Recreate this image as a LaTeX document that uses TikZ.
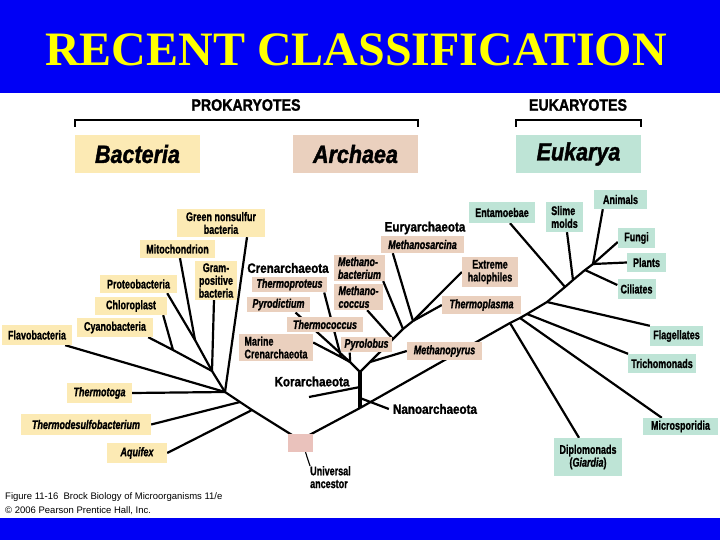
\documentclass[tikz,border=0pt]{standalone}
\usepackage{fontspec}
\setmainfont{Liberation Sans}
\newfontfamily\labfont{Liberation Sans}[FakeStretch=0.72, FakeBold=1.2]
\newfontfamily\headfont{Liberation Sans}[FakeStretch=0.86, FakeBold=1.5]
\newfontfamily\titlefont{Liberation Serif}
\usetikzlibrary{backgrounds, calc}
\definecolor{slideblue}{RGB}{0,0,245}
\definecolor{titleyellow}{RGB}{255,255,0}
\definecolor{bacfill}{RGB}{252,234,180}
\definecolor{arcfill}{RGB}{234,208,190}
\definecolor{eukfill}{RGB}{190,228,214}
\definecolor{rootfill}{RGB}{234,194,188}
\newcommand{\labsize}{\fontsize{12.5}{12.8}\selectfont}

\begin{document}
\begin{tikzpicture}[
  x=1pt, y=-1pt,
  lbl/.style        = {inner xsep=3pt, inner ysep=2pt, minimum height=18pt, align=center,
                       font=\labfont\bfseries\labsize},
  itl/.style        = {font=\labfont\bfseries\itshape\labsize},
  bacbox/.style     = {lbl, fill=bacfill},
  arcbox/.style     = {lbl, fill=arcfill},
  eukbox/.style     = {lbl, fill=eukfill},
  domainbox/.style  = {minimum width=125pt, minimum height=38pt, inner sep=0pt,
                       font=\headfont\bfseries\itshape\fontsize{25}{25}\selectfont},
  kingdomhdr/.style = {inner sep=0pt, font=\headfont\bfseries\fontsize{16.5}{16.5}\selectfont},
  phylumhdr/.style  = {inner sep=0pt, font=\headfont\bfseries\fontsize{13.5}{13.5}\selectfont},
  bracket/.style    = {line width=1.6pt},
  branch/.style     = {line width=2.2pt, line join=round},
  trunk/.style      = {line width=4.2pt},
]
\useasboundingbox (0,0) rectangle (720,540);

% ---------- slide frame ----------
\fill[slideblue] (0,0) rectangle (720,93);
\fill[slideblue] (0,518) rectangle (720,540);
\node[font=\titlefont\bfseries\fontsize{48}{48}\selectfont, text=titleyellow,
      anchor=base, inner sep=0pt] (title) at (356,66) {RECENT CLASSIFICATION};

% ---------- domains ----------
\node[kingdomhdr] (prok)   at (246,105) {PROKARYOTES};
\node[kingdomhdr] (eukhdr) at (578,105) {EUKARYOTES};
\node[domainbox, fill=bacfill] (bacteria) at (137.5,154) {Bacteria};
\node[domainbox, fill=arcfill] (archaea)  at (355.5,154) {Archaea};
\node[domainbox, fill=eukfill] (eukarya)  at (578.5,154) {Eukarya};
\draw[bracket] ([yshift=8pt]bacteria.north west) -- ++(0,-7) -| ([yshift=8pt]archaea.north east);
\draw[bracket] ([yshift=8pt]eukarya.north west) -- ++(0,-7) -| ([yshift=8pt]eukarya.north east);

% ---------- bacteria ----------
\node[bacbox, minimum width=88pt, minimum height=28pt] (gns) at (221,223) {Green nonsulfur\\bacteria};
\node[bacbox, minimum width=75pt] (mito)   at (177.5,249) {Mitochondrion};
\node[bacbox, minimum width=42pt] (gram)   at (216,280.5) {Gram-\\positive\\bacteria};
\node[bacbox, minimum width=77pt] (proteo) at (138.5,284) {Proteobacteria};
\node[bacbox, minimum width=72pt] (chloro) at (131,306)   {Chloroplast};
\node[bacbox, minimum width=76pt, minimum height=19pt] (cyano) at (115,327.5) {Cyanobacteria};
\node[bacbox, minimum width=70pt, minimum height=20pt] (flavo) at (37,335)    {Flavobacteria};
\node[bacbox, itl, minimum width=65pt, minimum height=20pt]  (thermotoga)    at (99.5,393) {Thermotoga};
\node[bacbox, itl, minimum width=130pt, minimum height=21pt] (thermodesulfo) at (86,424.5) {Thermodesulfobacterium};
\node[bacbox, itl, minimum width=60pt, minimum height=20pt]  (aquifex)       at (137,453)  {Aquifex};

% ---------- archaea ----------
\node[phylumhdr] (cren) at (288,268) {Crenarchaeota};
\node[arcbox, itl, minimum width=75pt, minimum height=15pt] (thermoproteus) at (289.5,284.5) {Thermoproteus};
\node[arcbox, itl, minimum width=63pt, minimum height=15pt] (pyrodictium)   at (278.5,304.5) {Pyrodictium};
\node[arcbox, itl, minimum width=76pt, minimum height=15pt] (thermococcus)  at (325,324.5)   {Thermococcus};
\node[arcbox, align=left, minimum width=74pt, minimum height=27pt] (marine) at (276,347.5) {Marine\\Crenarchaeota};
\node[arcbox, itl, align=left, minimum width=51pt, minimum height=26pt] (mbact)   at (359.5,268) {Methano-\\bacterium};
\node[arcbox, itl, align=left, minimum width=49pt, minimum height=24pt] (mcoccus) at (358.5,297) {Methano-\\coccus};
\node[arcbox, itl, minimum width=51pt, minimum height=15pt] (pyrolobus) at (366.5,344.5) {Pyrolobus};
\node[phylumhdr] (eury) at (425,228) {Euryarchaeota};
\node[arcbox, itl, minimum width=83pt, minimum height=17pt] (msarcina) at (422.5,244.5) {Methanosarcina};
\node[arcbox, minimum width=56pt, minimum height=30pt] (halo)    at (490,272)   {Extreme\\halophiles};
\node[arcbox, itl, minimum width=79pt]                 (tplasma) at (481.5,305) {Thermoplasma};
\node[arcbox, itl, minimum width=75pt]                 (mpyrus)  at (444.5,351) {Methanopyrus};
\node[phylumhdr] (korarch)  at (312,381.5) {Korarchaeota};
\node[phylumhdr] (nanoarch) at (435,409)   {Nanoarchaeota};

% ---------- eukarya ----------
\node[eukbox, minimum width=66pt, minimum height=21pt] (entamoebae) at (502,212.5) {Entamoebae};
\node[eukbox, align=left, minimum width=37pt, minimum height=30pt] (slime) at (564.5,217) {Slime\\molds};
\node[eukbox, minimum width=53pt, minimum height=19pt] (animals)     at (620.5,199.5) {Animals};
\node[eukbox, minimum width=37pt, minimum height=20pt] (fungi)       at (636.5,238)   {Fungi};
\node[eukbox, minimum width=39pt, minimum height=19pt] (plants)      at (646.5,262.5) {Plants};
\node[eukbox, minimum width=37pt, minimum height=20pt] (ciliates)    at (636.5,289)   {Ciliates};
\node[eukbox, minimum width=53pt, minimum height=20pt] (flagellates) at (676.5,336)   {Flagellates};
\node[eukbox, minimum width=66pt, minimum height=19pt] (tricho)      at (662,363.5)   {Trichomonads};
\node[eukbox, minimum width=75pt, minimum height=17pt] (micro)       at (680.5,426.5) {Microsporidia};
\node[eukbox, minimum width=68pt, minimum height=38pt] (diplo)       at (588,457)     {Diplomonads\\(\textit{Giardia})};

% ---------- root ----------
\node[fill=rootfill, minimum width=25pt, minimum height=18pt, inner sep=0pt] (ancestor) at (300.5,443) {};
\node[lbl, align=left, anchor=north west, inner sep=0pt] (universal) at (310,466) {Universal\\ancestor};

% ---------- footer ----------
\node[anchor=west, inner sep=0pt, font=\fontsize{9.5}{10}\selectfont] (figref) at (5,497)
     {Figure 11-16\ \ Brock Biology of Microorganisms 11/e};
\node[anchor=west, inner sep=0pt, font=\fontsize{9.5}{10}\selectfont] (copyr) at (5,511)
     {© 2006 Pearson Prentice Hall, Inc.};

% ---------- junctions ----------
\coordinate (root)     at (300,440);
\coordinate (bhub)     at (225,392);
\coordinate (bprot)    at (195,340);
\coordinate (bgram)    at (212,371);
\coordinate (bcyan)    at (173,350);
\coordinate (bdesulfo) at (240,402);
\coordinate (baquif)   at (252,410);
\coordinate (abase)    at (360,408);
\coordinate (atop)     at (360,372);
\coordinate (akor)     at (360,387);
\coordinate (anano)    at (360,398);
\coordinate (korend)   at (309,397);
\coordinate (cren0)    at (350,362);
\coordinate (cren1)    at (341,357);
\coordinate (eury1)    at (370,362);
\coordinate (eury2)    at (393,339);
\coordinate (eury3)    at (403,329);
\coordinate (eury0)    at (413,321);
\foreach \n/\p in {0/{510,323}, 1/{520,318}, 2/{527,314}, 3/{547,302},
                   4/{565,287}, 5/{573,280}, 6/{585,270}, 7/{593,264}}{
  \coordinate (euk\n) at (\p);
}

% ---------- branches ----------
\begin{scope}[on background layer]
  % bacteria
  \draw[branch] ([xshift=-10pt]proteo.south east) -- (bprot) -- (bgram) -- (bhub)
                -- (bdesulfo) -- (baquif) -- (root);
  \draw[branch] ([xshift=2.5pt]mito.south) -- (bprot);
  \draw[branch] ([xshift=-2pt]gram.south) -- (bgram);
  \draw[branch] ([xshift=-5pt]cyano.south east) -- (bcyan) -- (bgram);
  \draw[branch] ([xshift=-4pt]chloro.south east) -- (bcyan);
  \draw[branch] ([xshift=26pt]gns.south) -- (bhub);
  \draw[branch] ([xshift=-7pt]flavo.south east) -- (bhub);
  % archaea
  \draw[branch] (root) -- (abase);
  \draw[branch] (root) -- (root |- ancestor.south);
  \draw[trunk]  (abase) -- (atop);
  \draw[branch] (akor) -- (korend);
  \draw[branch] (anano) -- ([xshift=-4pt]nanoarch.west);
  \draw[branch] (atop) -- (cren0) -- (cren1) -- ([yshift=5pt]marine.east);
  \draw[branch] ([xshift=17pt]pyrodictium.south) -- (cren0);
  \draw[branch] ([xshift=-3pt]thermoproteus.south east) -- (cren1);
  \draw[branch] ([xshift=9pt]pyrolobus.south west) -- (cren0);
  \draw[branch] (atop) -- (eury1) -- (eury2) -- (eury3) -- (eury0);
  \draw[branch] ([xshift=-16pt]mcoccus.south east) -- (eury2);
  \draw[branch] ([xshift=-2pt]mbact.south east) -- (eury3);
  \draw[branch] ([xshift=12pt]msarcina.south west) -- (eury0);
  % eukarya
  \draw[branch] (abase) -- (euk0) -- (euk1) -- (euk2) -- (euk3) -- (euk4) -- (euk5) -- (euk6) -- (euk7);
  \draw[branch] ([xshift=-9pt]diplo.north) -- (euk0);
  \draw[branch] ([xshift=19pt]micro.north west) -- (euk1);
  \draw[branch] ([xshift=8pt]entamoebae.south) -- (euk4);
  \draw[branch] ([xshift=2.5pt]slime.south) -- (euk5);
  \draw[branch] ([yshift=4pt]ciliates.west) -- (euk6);
  \draw[branch] ([yshift=-4pt]fungi.west) -- (euk7);
  \draw[branch] ([xshift=9pt]animals.south west) -- (euk7);
  % leaves ending on a plain anchor
  \foreach \leaf/\jn in {thermotoga.east/bhub, thermodesulfo.east/bdesulfo, aquifex.east/baquif,
                         mpyrus.west/eury1, halo.west/eury0, tplasma.west/eury0,
                         tricho.north west/euk2, flagellates.north west/euk3, plants.west/euk7}{
    \draw[branch] (\leaf) -- (\jn);
  }
  % pointer to the ancestor
  \draw[line width=1.1pt] ([xshift=5pt]ancestor.south) -- (universal.north west);
\end{scope}

\end{tikzpicture}
\end{document}
